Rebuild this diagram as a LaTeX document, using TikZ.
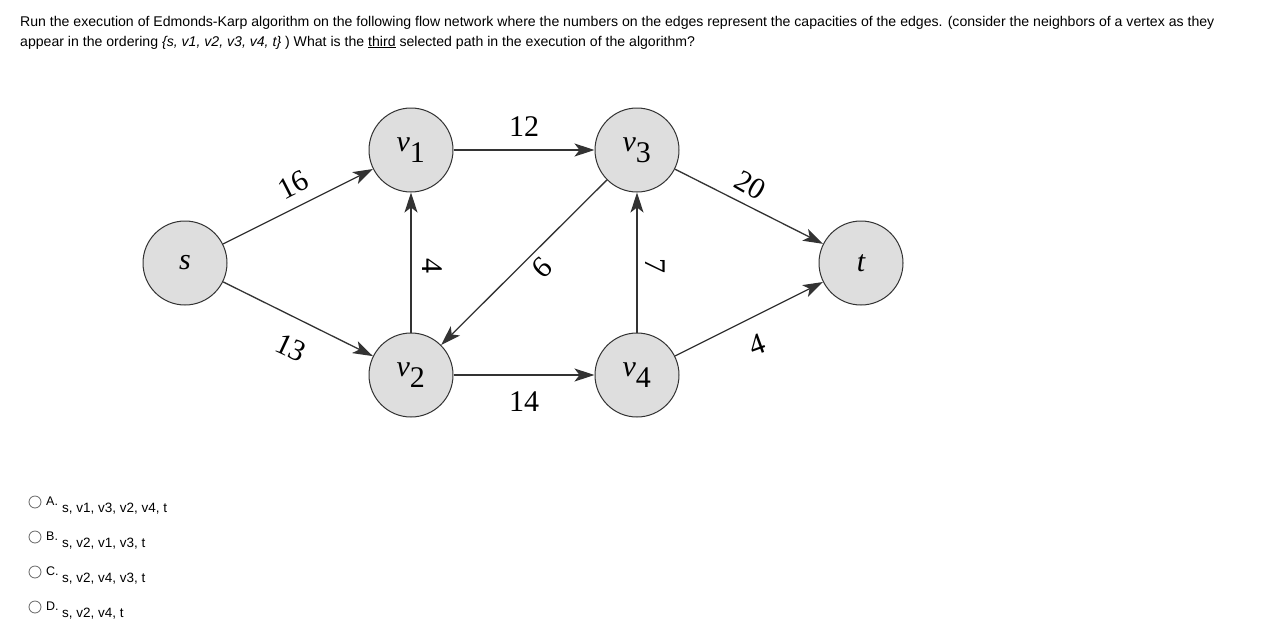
\documentclass[tikz,border=0pt]{standalone}
\usepackage{fontspec}
\setmainfont{Liberation Sans}
\newfontfamily\graphfont{Liberation Serif}
\usetikzlibrary{arrows.meta}
\begin{document}
\begin{tikzpicture}[x=1pt,y=-1pt,
  vtx/.style={circle,draw=black!80,line width=1pt,fill=black!13,minimum size=84pt,inner sep=0pt,font=\graphfont\itshape\fontsize{30}{30}\selectfont},
  edge/.style={line width=1.3pt,draw=black!80,-{Stealth[length=20pt,width=13pt,inset=5pt]}},
  capl/.style={font=\graphfont\fontsize{30}{30}\selectfont},
  q/.style={anchor=base west,inner sep=0pt,font=\fontsize{14.1}{16}\selectfont},
  opt/.style={anchor=base west,font=\fontsize{13.5}{15}\selectfont},
  radio/.style={circle,draw=black!60,line width=0.8pt,minimum size=12pt,inner sep=0pt}]
\useasboundingbox (0,0) rectangle (1263,629);
\fill[white] (0,0) rectangle (1263,629);
\node[q] (l1) at (20,27) {Run the execution of Edmonds-Karp algorithm on the following flow network where the numbers on the edges represent the capacities of the edges. (consider the neighbors of a vertex as they};
\node[q] (l2) at (20,46) {appear in the ordering \textit{\{s, v1, v2, v3, v4, t\}} ) What is the \underline{third} selected path in the execution of the algorithm?};
\node[vtx] (s) at (185,263) {s};
\node[vtx] (v1) at (411,150) {v\textsubscript{\upshape\fontsize{30}{30}\selectfont 1}};
\node[vtx] (v3) at (637,150) {v\textsubscript{\upshape\fontsize{30}{30}\selectfont 3}};
\node[vtx] (v2) at (411,375) {v\textsubscript{\upshape\fontsize{30}{30}\selectfont 2}};
\node[vtx] (v4) at (637,375) {v\textsubscript{\upshape\fontsize{30}{30}\selectfont 4}};
\node[vtx] (t) at (861,263) {t};
\draw[edge] (s) -- (v1);
\draw[edge] (s) -- (v2);
\draw[edge] (v1) -- (v3);
\draw[edge] (v2) -- (v1);
\draw[edge] (v3) -- (v2);
\draw[edge] (v2) -- (v4);
\draw[edge] (v4) -- (v3);
\draw[edge] (v3) -- (t);
\draw[edge] (v4) -- (t);
\node[capl,rotate=27] (c16) at (293,185) {16};
\node[capl] (c12) at (524,127) {12};
\node[capl,rotate=-30] (c20) at (750,185) {20};
\node[capl,rotate=-25] (c13) at (291,348) {13};
\node[capl] (c14) at (524,402) {14};
\node[capl,rotate=-90] (c4a) at (432,266) {4};
\node[capl,rotate=225] (c9) at (542,268) {9};
\node[capl,rotate=-90] (c7) at (655,266) {7};
\node[capl,rotate=20] (c4b) at (757,345) {4};
\foreach \y/\l/\t in {507/A/{s, v1, v3, v2, v4, t},542/B/{s, v2, v1, v3, t},577/C/{s, v2, v4, v3, t},612/D/{s, v2, v4, t}}{
  \node[radio] (r\l) at (35,\y-5) {};
  \node[anchor=base west,font=\fontsize{12.5}{14}\selectfont,inner sep=0pt] (k\l) at (46,\y-2) {\l.};
  \node[opt,inner sep=0pt] (o\l) at (62,\y+5) {\t};
}
\end{tikzpicture}
\end{document}
